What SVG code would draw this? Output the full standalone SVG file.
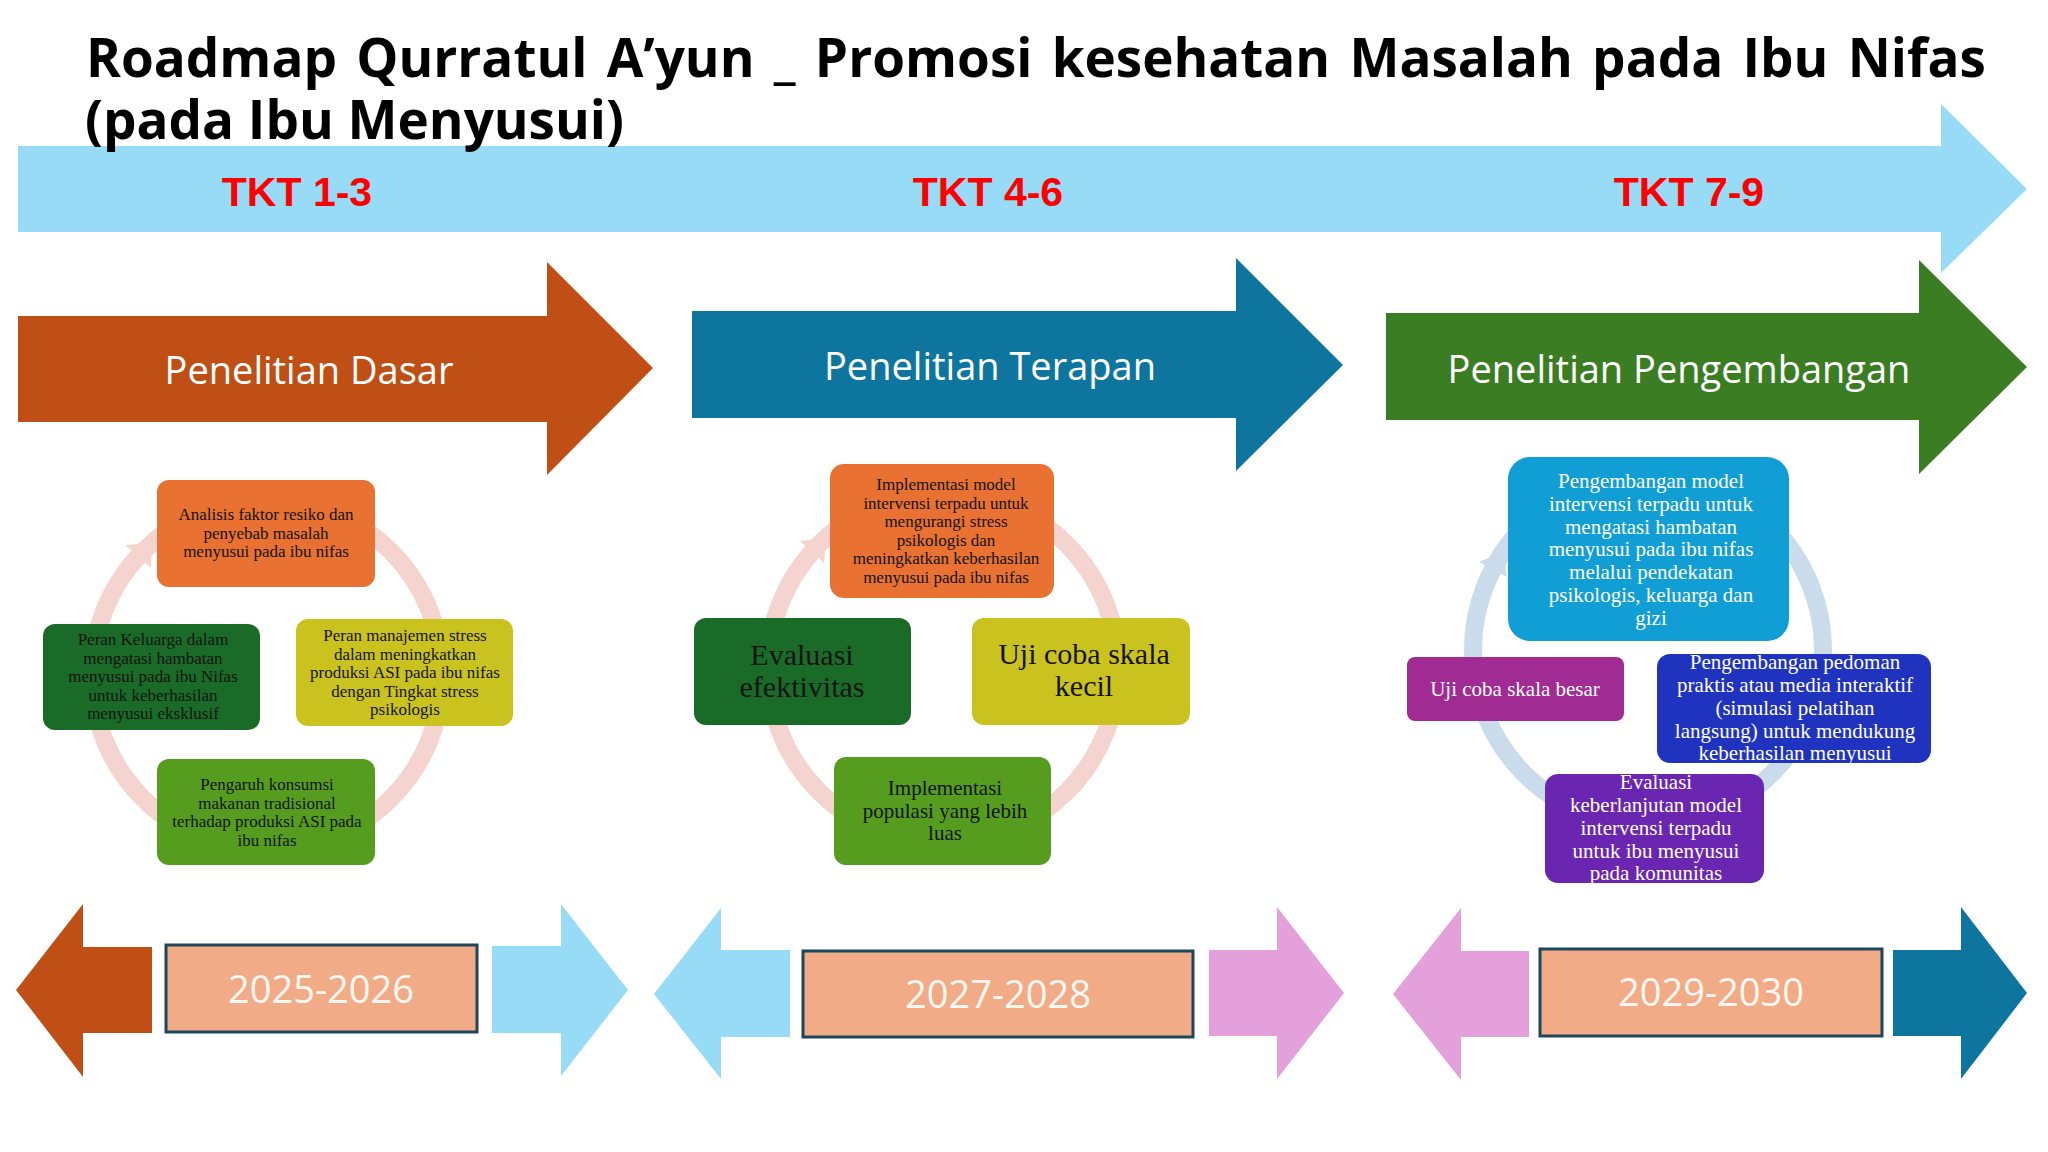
<svg xmlns="http://www.w3.org/2000/svg" width="2048" height="1152" viewBox="0 0 2048 1152">
<style>
.title{font-family:"Open Sans","Noto Sans","Liberation Sans",sans-serif;font-weight:700;font-size:53px;fill:#000}
.tkt{font-family:"Liberation Sans",Arial,sans-serif;font-weight:700;font-size:41px;fill:#FF0000;text-anchor:middle}
.phase{font-family:"Open Sans","Noto Sans",sans-serif;font-size:38px;fill:#FFFFFF;text-anchor:middle}
.year{font-family:"Open Sans","Noto Sans",sans-serif;font-size:38px;fill:#FFF8F2;text-anchor:middle}
.yearbox{fill:#F1AB86;stroke:#1C475A;stroke-width:3}
.s17{font-family:"Liberation Serif","Times New Roman",serif;font-size:17px;fill:#141414;text-anchor:middle}
.s21{font-family:"Liberation Serif","Times New Roman",serif;font-size:21px;fill:#141414;text-anchor:middle}
.s30{font-family:"Liberation Serif","Times New Roman",serif;font-size:30px;fill:#141414;text-anchor:middle}
.w21{font-family:"Liberation Serif","Times New Roman",serif;font-size:21px;fill:#FFFFFF;text-anchor:middle}
.ringA{fill:none;stroke:#F5D4CF;stroke-width:18}
.ringB{fill:none;stroke:#CADBEB;stroke-width:18}
</style>

<g id="tkt-band">
<polygon points="18,146 1941,146 1941,104 2027,189 1941,273 1941,232 18,232" fill="#97DBF6"/>
<text class="tkt" x="297" y="206">TKT 1-3</text>
<text class="tkt" x="988" y="206">TKT 4-6</text>
<text class="tkt" x="1689" y="206">TKT 7-9</text>
</g>

<g id="title">
<text class="title"><tspan x="86" y="77" word-spacing="5.5">Roadmap Qurratul A’yun _ Promosi kesehatan Masalah pada Ibu Nifas</tspan><tspan x="85" y="139">(pada Ibu Menyusui)</tspan></text>
</g>

<g id="phase-dasar">
<polygon points="18,316 547,316 547,262 653,368 547,475 547,422 18,422" fill="#BF4F15"/>
<text class="phase" x="309" y="384">Penelitian Dasar</text>
</g>
<g id="phase-terapan">
<polygon points="692,311 1236,311 1236,258 1343,365 1236,471 1236,418 692,418" fill="#0E759E"/>
<text class="phase" x="990" y="380">Penelitian Terapan</text>
</g>
<g id="phase-pengembangan">
<polygon points="1386,313 1919,313 1919,260 2027,367 1919,474 1919,420 1386,420" fill="#3A7D22"/>
<text class="phase" x="1679" y="383">Penelitian Pengembangan</text>
</g>

<g id="connectors">
<circle class="ringA" cx="267" cy="675" r="175"/>
<polygon points="152,543 125,545 151,568" fill="#F5D4CF"/>
<circle class="ringA" cx="943" cy="668" r="175"/>
<polygon points="826,538 800,541 824,563" fill="#F5D4CF"/>
<circle class="ringB" cx="1648" cy="650" r="175"/>
<polygon points="1503,552 1479,562 1507,577" fill="#CADBEB"/>
</g>

<g id="c1-top">
<rect x="157" y="480" width="218" height="107" rx="12" fill="#E97132"/>
<text class="s17"><tspan x="266" y="520">Analisis faktor resiko dan</tspan><tspan x="266" y="538.5">penyebab masalah</tspan><tspan x="266" y="557">menyusui pada ibu nifas</tspan></text>
</g>
<g id="c1-right">
<rect x="296" y="619" width="217" height="107" rx="12" fill="#CAC21F"/>
<text class="s17"><tspan x="405" y="641">Peran manajemen stress</tspan><tspan x="405" y="659.5">dalam meningkatkan</tspan><tspan x="405" y="678">produksi ASI pada ibu nifas</tspan><tspan x="405" y="696.5">dengan Tingkat stress</tspan><tspan x="405" y="715">psikologis</tspan></text>
</g>
<g id="c1-left">
<rect x="43" y="624" width="217" height="106" rx="12" fill="#196B27"/>
<text class="s17"><tspan x="153" y="645">Peran Keluarga dalam</tspan><tspan x="153" y="663.5">mengatasi hambatan</tspan><tspan x="153" y="682">menyusui pada ibu Nifas</tspan><tspan x="153" y="700.5">untuk keberhasilan</tspan><tspan x="153" y="719">menyusui eksklusif</tspan></text>
</g>
<g id="c1-bottom">
<rect x="157" y="759" width="218" height="106" rx="12" fill="#559C1F"/>
<text class="s17"><tspan x="267" y="790">Pengaruh konsumsi</tspan><tspan x="267" y="808.5">makanan tradisional</tspan><tspan x="267" y="827">terhadap produksi ASI pada</tspan><tspan x="267" y="845.5">ibu nifas</tspan></text>
</g>

<g id="c2-top">
<rect x="830" y="464" width="224" height="134" rx="14" fill="#E97132"/>
<text class="s17"><tspan x="946" y="490">Implementasi model</tspan><tspan x="946" y="508.5">intervensi terpadu untuk</tspan><tspan x="946" y="527">mengurangi stress</tspan><tspan x="946" y="545.5">psikologis dan</tspan><tspan x="946" y="564">meningkatkan keberhasilan</tspan><tspan x="946" y="582.5">menyusui pada ibu nifas</tspan></text>
</g>
<g id="c2-left">
<rect x="694" y="618" width="217" height="107" rx="12" fill="#196B27"/>
<text class="s30"><tspan x="802" y="665">Evaluasi</tspan><tspan x="802" y="697">efektivitas</tspan></text>
</g>
<g id="c2-right">
<rect x="972" y="618" width="218" height="107" rx="12" fill="#CAC21F"/>
<text class="s30"><tspan x="1084" y="664">Uji coba skala</tspan><tspan x="1084" y="696">kecil</tspan></text>
</g>
<g id="c2-bottom">
<rect x="834" y="757" width="217" height="108" rx="12" fill="#559C1F"/>
<text class="s21"><tspan x="945" y="795">Implementasi</tspan><tspan x="945" y="818">populasi yang lebih</tspan><tspan x="945" y="840">luas</tspan></text>
</g>

<g id="c3-top">
<rect x="1508" y="457" width="281" height="184" rx="22" fill="#109ED5"/>
<text class="w21"><tspan x="1651" y="488">Pengembangan model</tspan><tspan x="1651" y="510.8">intervensi terpadu untuk</tspan><tspan x="1651" y="533.6">mengatasi hambatan</tspan><tspan x="1651" y="556.4">menyusui pada ibu nifas</tspan><tspan x="1651" y="579.2">melalui pendekatan</tspan><tspan x="1651" y="602">psikologis, keluarga dan</tspan><tspan x="1651" y="624.8">gizi</tspan></text>
</g>
<g id="c3-left">
<rect x="1407" y="657" width="217" height="64" rx="8" fill="#A02B93"/>
<text class="w21" x="1515" y="696">Uji coba skala besar</text>
</g>
<g id="c3-right">
<rect x="1657" y="654" width="274" height="109" rx="13" fill="#1F33BF"/>
<text class="w21"><tspan x="1795" y="669">Pengembangan pedoman</tspan><tspan x="1795" y="692">praktis atau media interaktif</tspan><tspan x="1795" y="715">(simulasi pelatihan</tspan><tspan x="1795" y="738">langsung) untuk mendukung</tspan><tspan x="1795" y="760">keberhasilan menyusui</tspan></text>
</g>
<g id="c3-bottom">
<rect x="1545" y="774" width="219" height="109" rx="13" fill="#6A25B1"/>
<text class="w21"><tspan x="1656" y="789">Evaluasi</tspan><tspan x="1656" y="811.5">keberlanjutan model</tspan><tspan x="1656" y="834.5">intervensi terpadu</tspan><tspan x="1656" y="857.5">untuk ibu menyusui</tspan><tspan x="1656" y="880">pada komunitas</tspan></text>
</g>

<g id="year-arrows">
<polygon points="16,990 83,904 83,947 152,947 152,1033 83,1033 83,1077" fill="#BF4F15"/>
<polygon points="492,946 561,946 561,904 628,990 561,1076 561,1033 492,1033" fill="#97DBF6"/>
<polygon points="654,994 721,908 721,950 790,950 790,1037 721,1037 721,1079" fill="#97DBF6"/>
<polygon points="1209,950 1277,950 1277,907 1344,993 1277,1079 1277,1036 1209,1036" fill="#E3A0DB"/>
<polygon points="1393,994 1461,908 1461,951 1529,951 1529,1037 1461,1037 1461,1080" fill="#E3A0DB"/>
<polygon points="1893,950 1961,950 1961,907 2027,993 1961,1079 1961,1036 1893,1036" fill="#0E759E"/>
</g>
<g id="year-2025">
<rect class="yearbox" x="166" y="945" width="311" height="87"/>
<text class="year" x="321" y="1003">2025-2026</text>
</g>
<g id="year-2027">
<rect class="yearbox" x="803" y="951" width="390" height="86"/>
<text class="year" x="998" y="1008">2027-2028</text>
</g>
<g id="year-2029">
<rect class="yearbox" x="1540" y="949" width="342" height="87"/>
<text class="year" x="1711" y="1006">2029-2030</text>
</g>
</svg>
